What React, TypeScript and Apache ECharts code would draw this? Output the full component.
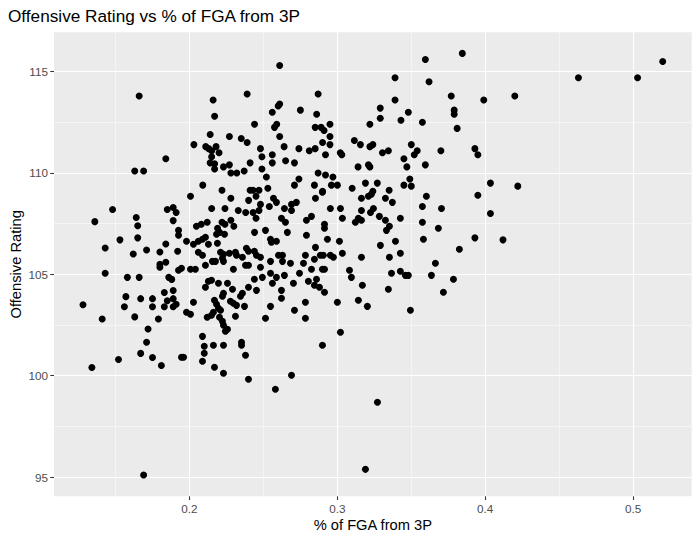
import React, { useEffect, useRef } from "react";
import * as echarts from "echarts";

const chartTitle = "Offensive Rating vs % of FGA from 3P";
const xTitle = "% of FGA from 3P";
const yTitle = "Offensive Rating";
const xTicks = [0.2, 0.3, 0.4, 0.5];
const xMinorTicks = [0.15, 0.25, 0.35, 0.45];
const yTicks = [95, 100, 105, 110, 115];
const yMinorTicks = [97.5, 102.5, 107.5, 112.5];
const xRange = [0.1084, 0.5396];
const yRange = [94.05, 116.94];

// [share of FGA from 3P, offensive rating]
const lowThreeTeams: number[][] = [
  [0.166, 113.8], [0.184, 110.7], [0.163, 110.1], [0.169, 110.1], [0.148, 108.2],
  [0.185, 108.2], [0.189, 108.3], [0.164, 107.8], [0.136, 107.6], [0.189, 107.65],
  [0.165, 107.4], [0.165, 106.8], [0.153, 106.7], [0.184, 106.5], [0.143, 106.3],
  [0.171, 106.2], [0.162, 106.0], [0.18, 106.1], [0.18, 105.5], [0.18, 105.35],
  [0.184, 105.6], [0.143, 105.05], [0.158, 104.85], [0.166, 104.85], [0.186, 104.85],
  [0.188, 104.75], [0.189, 104.2], [0.183, 104.1], [0.157, 103.9], [0.167, 103.8],
  [0.175, 103.8], [0.185, 103.7], [0.189, 103.8], [0.128, 103.5], [0.156, 103.4],
  [0.175, 103.4], [0.183, 103.4], [0.189, 103.4], [0.141, 102.8], [0.163, 102.9],
  [0.179, 102.8], [0.172, 102.3], [0.171, 101.65], [0.167, 101.1], [0.175, 100.9],
  [0.152, 100.8], [0.181, 100.5], [0.134, 100.4], [0.169, 95.1],
];

const midTopTeams: number[][] = [
  [0.239, 113.9], [0.216, 113.6], [0.217, 112.8], [0.256, 113.0], [0.244, 112.4],
  [0.2575, 112.25], [0.214, 111.9], [0.227, 111.8], [0.235, 111.7], [0.239, 111.5],
  [0.203, 111.4], [0.211, 111.3], [0.213, 111.2], [0.215, 111.1], [0.218, 111.3],
  [0.22, 111.0], [0.248, 111.2], [0.215, 110.8], [0.249, 110.8], [0.256, 110.9],
  [0.214, 110.5], [0.217, 110.45], [0.241, 110.5], [0.256, 110.5], [0.227, 110.4],
  [0.223, 110.3], [0.217, 110.2], [0.249, 110.2], [0.228, 110.0], [0.232, 110.0],
  [0.237, 110.1], [0.252, 109.8], [0.209, 109.4], [0.222, 109.15], [0.241, 109.15],
  [0.243, 109.15], [0.247, 109.15], [0.253, 109.25],
];

const centerTopTeams: number[][] = [
  [0.261, 115.3], [0.287, 113.9], [0.261, 113.4], [0.26, 113.3], [0.275, 113.1],
  [0.286, 112.9], [0.259, 112.4], [0.285, 112.25], [0.289, 112.25], [0.291, 112.1],
  [0.295, 112.4], [0.322, 112.4], [0.261, 111.8], [0.295, 111.8], [0.264, 111.3],
  [0.274, 111.2], [0.281, 111.1], [0.285, 111.2], [0.29, 111.5], [0.295, 111.4],
  [0.3115, 111.6], [0.3156, 111.4], [0.322, 111.3], [0.324, 111.4], [0.292, 110.9],
  [0.302, 111.0], [0.303, 110.9], [0.265, 110.6], [0.271, 110.5], [0.314, 110.3],
  [0.321, 110.4], [0.322, 110.3], [0.287, 110.0], [0.292, 109.9], [0.297, 109.8],
  [0.274, 109.7], [0.271, 109.4], [0.2845, 109.4], [0.296, 109.4], [0.3, 109.4],
  [0.319, 109.5], [0.31, 109.25], [0.29, 109.1], [0.324, 109.1],
];

const highThreeTeams: number[][] = [
  [0.3595, 115.6], [0.3845, 115.9], [0.339, 114.7], [0.362, 114.5], [0.377, 113.8],
  [0.339, 113.6], [0.329, 113.2], [0.348, 113.0], [0.379, 113.1], [0.379, 112.9],
  [0.329, 112.7], [0.343, 112.6], [0.3575, 112.5], [0.381, 112.2], [0.35, 111.4],
  [0.3305, 111.0], [0.3345, 111.1], [0.354, 111.1], [0.352, 110.9], [0.37, 111.1],
  [0.393, 111.2], [0.345, 110.7], [0.347, 110.3], [0.3595, 110.4], [0.327, 109.5],
  [0.349, 109.7], [0.35, 109.35], [0.345, 109.4], [0.335, 109.15], [0.52, 115.5],
  [0.463, 114.7], [0.503, 114.7], [0.399, 113.6], [0.42, 113.8], [0.395, 110.9],
  [0.4035, 109.5], [0.422, 109.35], [0.395, 108.9], [0.4035, 108.0], [0.393, 106.8],
  [0.412, 106.7],
];

const midLowTeams: number[][] = [
  [0.2007, 108.85], [0.245, 108.85], [0.228, 108.75], [0.24, 108.65], [0.248, 108.45],
  [0.2568, 108.75], [0.2588, 108.55], [0.254, 108.35], [0.191, 108.05], [0.215, 108.25],
  [0.224, 108.25], [0.233, 108.15], [0.238, 108.05], [0.243, 108.05], [0.247, 108.15],
  [0.245, 107.77], [0.2047, 107.37], [0.208, 107.47], [0.212, 107.57], [0.222, 107.57],
  [0.224, 107.47], [0.228, 107.67], [0.23, 107.37], [0.219, 107.27], [0.2203, 107.07],
  [0.2237, 106.98], [0.2183, 106.98], [0.1926, 107.17], [0.1926, 106.93], [0.244, 107.07],
  [0.2514, 107.17], [0.2548, 106.73], [0.2554, 106.58], [0.198, 106.63], [0.2027, 106.48],
  [0.206, 106.63], [0.2088, 106.73], [0.2108, 106.83], [0.2128, 106.48], [0.2189, 106.53],
  [0.192, 106.14], [0.206, 106.09], [0.2088, 105.94], [0.221, 106.09], [0.223, 105.99],
  [0.2223, 105.79], [0.227, 106.04], [0.2311, 106.09], [0.2318, 105.94], [0.2358, 105.84],
  [0.2385, 106.29], [0.2399, 106.14], [0.2439, 106.14], [0.2453, 105.94], [0.248, 105.84],
  [0.2548, 105.64], [0.2155, 105.64], [0.2176, 105.64], [0.223, 105.64], [0.2108, 105.45],
  [0.2379, 105.45], [0.2399, 105.45], [0.2297, 105.25], [0.248, 105.35], [0.1926, 105.2],
  [0.1946, 105.3], [0.2007, 105.25], [0.204, 105.25], [0.2548, 105.05], [0.2128, 104.66],
  [0.2149, 104.71], [0.2196, 104.56], [0.2257, 104.56], [0.2108, 104.36], [0.2439, 104.76],
  [0.2493, 104.85], [0.2561, 104.56], [0.2399, 104.36], [0.2291, 104.26], [0.223, 104.07],
  [0.2223, 103.92], [0.2453, 104.21], [0.2358, 104.07], [0.2345, 103.92], [0.2169, 103.72],
  [0.2183, 103.52], [0.2277, 103.67], [0.2297, 103.57], [0.2027, 103.62], [0.2318, 103.47],
  [0.2372, 103.42], [0.2548, 103.42], [0.191, 103.52], [0.198, 103.13], [0.2007, 103.03],
  [0.2196, 103.33], [0.221, 103.23], [0.2162, 103.13], [0.2149, 102.98], [0.212, 102.88],
  [0.2203, 102.88], [0.2223, 102.68], [0.223, 102.49], [0.2243, 102.19], [0.2257, 102.29],
  [0.2311, 102.93], [0.2514, 102.83], [0.2088, 101.94], [0.21, 101.45], [0.2162, 101.5],
  [0.223, 101.5], [0.2352, 101.65], [0.2352, 101.5], [0.1946, 100.91], [0.196, 100.91],
  [0.21, 101.11], [0.2088, 100.71], [0.2379, 101.01], [0.2169, 100.42], [0.223, 100.12],
  [0.2399, 99.82], [0.2581, 99.33],
];

const centerLowTeams: number[][] = [
  [0.2852, 108.75], [0.2899, 109.05], [0.3163, 108.75], [0.321, 108.85], [0.323, 108.95],
  [0.2642, 108.25], [0.269, 108.45], [0.2723, 108.55], [0.269, 108.15], [0.2953, 108.25],
  [0.3021, 108.25], [0.3163, 108.15], [0.3224, 108.05], [0.3244, 108.25], [0.2791, 107.67],
  [0.2825, 107.86], [0.2622, 107.77], [0.2649, 107.57], [0.2913, 107.47], [0.2913, 107.27],
  [0.3034, 107.77], [0.3122, 107.57], [0.3142, 107.77], [0.3163, 107.67], [0.2662, 107.07],
  [0.2791, 106.93], [0.2933, 106.73], [0.3014, 106.63], [0.2588, 106.63], [0.2852, 106.33],
  [0.3034, 106.04], [0.2602, 105.94], [0.2629, 105.94], [0.2784, 105.94], [0.2885, 105.94],
  [0.2905, 105.94], [0.2953, 105.94], [0.2973, 105.84], [0.3163, 105.84], [0.2629, 105.64],
  [0.2683, 105.55], [0.2771, 105.55], [0.2845, 105.74], [0.2825, 105.25], [0.2899, 105.25],
  [0.2913, 105.25], [0.2744, 105.05], [0.2642, 104.95], [0.2588, 104.85], [0.3082, 105.2],
  [0.3095, 104.85], [0.2859, 104.76], [0.2804, 104.66], [0.2845, 104.46], [0.2879, 104.36],
  [0.2913, 104.12], [0.2703, 104.56], [0.3169, 104.46], [0.2622, 104.21], [0.2622, 103.82],
  [0.2784, 103.62], [0.3, 103.62], [0.3142, 103.72], [0.3203, 103.42], [0.271, 103.23],
  [0.2784, 102.83], [0.3021, 102.14], [0.2899, 101.5], [0.269, 100.02], [0.319, 95.38],
];

const rightLowTeams: number[][] = [
  [0.3602, 108.85], [0.3325, 108.75], [0.3372, 108.55], [0.3575, 108.35], [0.3704, 108.25],
  [0.3284, 107.86], [0.3325, 107.67], [0.3426, 107.77], [0.3575, 107.57], [0.3352, 107.37],
  [0.3332, 107.17], [0.3683, 107.27], [0.3393, 106.63], [0.3582, 106.73], [0.3291, 106.43],
  [0.3825, 106.24], [0.3426, 106.04], [0.3352, 105.84], [0.3663, 105.55], [0.3426, 105.15],
  [0.346, 104.95], [0.348, 104.95], [0.3366, 105.05], [0.3636, 104.95], [0.3785, 104.76],
  [0.3345, 104.26], [0.3717, 104.12], [0.3494, 103.23], [0.3271, 98.69],
];

const FONT = "'Liberation Sans', Arial, sans-serif";

export default function App() {
  const ref = useRef<HTMLDivElement>(null);

  useEffect(() => {
    if (!ref.current) return;
    const chart = echarts.init(ref.current, null, { renderer: "svg" });
    const points = [
      ...lowThreeTeams,
      ...midTopTeams,
      ...centerTopTeams,
      ...highThreeTeams,
      ...midLowTeams,
      ...centerLowTeams,
      ...rightLowTeams,
    ];
    const hidden = {
      axisLine: { show: false },
      axisLabel: { show: false },
    };
    const tickLabel = {
      fontFamily: FONT,
      fontSize: 11.7,
      color: "#4D4D4D",
      margin: 6,
      formatter: (v: number) => `{t|${v}}`,
      rich: { t: { fontFamily: FONT, fontSize: 11.7, color: "#4D4D4D" } },
    };
    chart.setOption({
      animation: false,
      backgroundColor: "#FFFFFF",
      title: {
        text: chartTitle,
        left: 3,
        top: 2,
        textStyle: { fontFamily: FONT, fontSize: 17.2, fontWeight: "normal", color: "#000000" },
      },
      grid: {
        left: 54,
        right: 7.3,
        top: 32.3,
        bottom: 44.7,
        show: true,
        backgroundColor: "#EBEBEB",
        borderWidth: 0,
        containLabel: false,
        outerBoundsMode: "none",
      },
      xAxis: [
        {
          type: "value",
          min: xRange[0],
          max: xRange[1],
          name: xTitle,
          nameLocation: "middle",
          nameGap: 21,
          nameMoveOverlap: false,
          nameTextStyle: { fontFamily: FONT, fontSize: 14.7, color: "#000000" },
          axisLine: { show: false },
          axisTick: { show: true, customValues: xTicks, length: 3.7, lineStyle: { color: "#333333", width: 1.07 } },
          axisLabel: { ...tickLabel, customValues: xTicks },
          splitLine: { show: true, lineStyle: { color: "#FFFFFF", width: 1.07 } },
        },
        {
          type: "value",
          min: xRange[0],
          max: xRange[1],
          position: "bottom",
          ...hidden,
          axisTick: { show: false, customValues: xMinorTicks },
          splitLine: { show: true, lineStyle: { color: "#FFFFFF", width: 0.53 } },
        },
      ],
      yAxis: [
        {
          type: "value",
          min: yRange[0],
          max: yRange[1],
          name: yTitle,
          nameLocation: "middle",
          nameGap: 31,
          nameMoveOverlap: false,
          nameRotate: 90,
          nameTextStyle: { fontFamily: FONT, fontSize: 14.7, color: "#000000" },
          axisLine: { show: false },
          axisTick: { show: true, customValues: yTicks, length: 3.7, lineStyle: { color: "#333333", width: 1.07 } },
          axisLabel: { ...tickLabel, customValues: yTicks },
          splitLine: { show: true, lineStyle: { color: "#FFFFFF", width: 1.07 } },
        },
        {
          type: "value",
          min: yRange[0],
          max: yRange[1],
          position: "left",
          ...hidden,
          axisTick: { show: false, customValues: yMinorTicks },
          splitLine: { show: true, lineStyle: { color: "#FFFFFF", width: 0.53 } },
        },
      ],
      series: [
        {
          type: "scatter",
          xAxisIndex: 0,
          yAxisIndex: 0,
          data: points,
          symbol: "circle",
          symbolSize: 7,
          itemStyle: { color: "#000000", opacity: 1 },
          silent: true,
          z: 5,
        },
      ],
    });
    return () => chart.dispose();
  }, []);

  return (
    <div
      ref={ref}
      style={{ position: "absolute", left: 0, top: 0, width: 699, height: 541, background: "#FFFFFF" }}
    />
  );
}
